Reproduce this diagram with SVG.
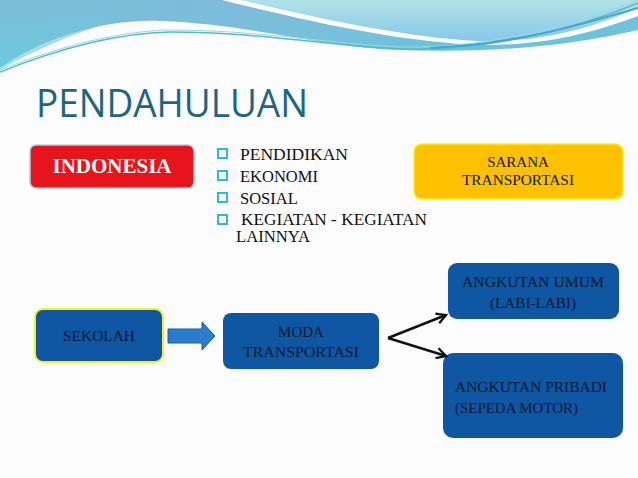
<svg xmlns="http://www.w3.org/2000/svg" width="638" height="478" viewBox="0 0 638 478">
<defs>
<linearGradient id="gMain" x1="0" y1="0" x2="1" y2="1">
<stop offset="0" stop-color="#80b9d8"/>
<stop offset="0.5" stop-color="#78c0dc"/>
<stop offset="1" stop-color="#5cc6dc"/>
</linearGradient>
<linearGradient id="gLeft" x1="0" y1="0" x2="0" y2="1">
<stop offset="0" stop-color="#7dbdd8"/>
<stop offset="1" stop-color="#5fd2e2"/>
</linearGradient>
<linearGradient id="gLight" x1="0" y1="0" x2="0" y2="1">
<stop offset="0" stop-color="#b2e2e6"/>
<stop offset="1" stop-color="#85c8ea"/>
</linearGradient>
<marker id="ah" viewBox="0 0 12 12" refX="10" refY="6" markerWidth="5" markerHeight="5" orient="auto" markerUnits="strokeWidth">
<path d="M1,1 L10,6 L1,11" fill="none" stroke="#111" stroke-width="2.2" stroke-linejoin="miter"/>
</marker>
<style>
.box{fill:#0f57a3;}
.t{font-family:"Liberation Serif","Times New Roman",serif;font-size:15px;fill:#0b1630;}
.b{font-family:"Liberation Serif","Times New Roman",serif;font-size:16.5px;fill:#111;}
.cb{fill:#f4fbfc;stroke:#35b6ca;stroke-width:2;}
</style>
</defs>
<rect width="638" height="478" fill="#fcfcfc"/>
<g id="header">
<path d="M0,0 H638 V30 C 560,48 480,53 400,50 C 320,47 250,24 160,21 C 100,19 40,40 0,68 Z" fill="url(#gMain)"/>
<path d="M0,0 H200 C 140,10 60,35 0,70 Z" fill="url(#gLeft)" opacity="0.6"/>
<path d="M222,0 C 310,22 400,42 478,45 C 550,46 600,30 638,16 V0 Z" fill="#ffffff"/>
<path d="M240,0 C 322,19 403,37 478,41 C 545,43 600,25 638,8 V0 Z" fill="url(#gLight)"/>
<path d="M0,72 C 60,48 120,33 170,32 C 260,32 330,46 400,49 C 480,51 570,32 638,3" fill="none" stroke="#4fbccc" stroke-width="1.5"/>
<path d="M0,70 C 60,46 120,31 170,30 C 260,30 330,44 400,47 C 480,49 570,28 638,0" fill="none" stroke="#9fd6e0" stroke-width="1"/>
<path d="M430,48 C 520,44 590,22 638,8" fill="none" stroke="#3aa8d0" stroke-width="2"/>
</g>
<text x="36" y="117" font-family="'Open Sans','Liberation Sans',sans-serif" font-size="39" fill="#1c6682" textLength="272" lengthAdjust="spacingAndGlyphs">PENDAHULUAN</text>
<g id="indonesia">
<rect x="30" y="145" width="164" height="43" rx="6" fill="#e8141c" stroke="#9fd3ea" stroke-width="1.5"/>
<text x="112" y="173" text-anchor="middle" font-family="'Liberation Serif','Times New Roman',serif" font-weight="bold" font-size="20" fill="#ffffff" textLength="119" lengthAdjust="spacingAndGlyphs">INDONESIA</text>
</g>
<g id="list">
<rect class="cb" x="218" y="149" width="9" height="9"/>
<rect class="cb" x="218" y="171" width="9" height="9"/>
<rect class="cb" x="218" y="193" width="9" height="9"/>
<rect class="cb" x="218" y="215" width="9" height="9"/>
<text class="b" x="240" y="160" textLength="108" lengthAdjust="spacingAndGlyphs">PENDIDIKAN</text>
<text class="b" x="240" y="182">EKONOMI</text>
<text class="b" x="240" y="204">SOSIAL</text>
<text class="b" x="241" y="225" textLength="186" lengthAdjust="spacingAndGlyphs">KEGIATAN - KEGIATAN</text>
<text class="b" x="236" y="242" textLength="74" lengthAdjust="spacingAndGlyphs">LAINNYA</text>
</g>
<g id="sarana">
<rect x="414" y="144" width="209" height="55" rx="8" fill="#ffc000" stroke="#fff200" stroke-width="1.5"/>
<text class="t" x="518" y="167" text-anchor="middle" fill="#2a1f00">SARANA</text>
<text class="t" x="518" y="185" text-anchor="middle" textLength="112" lengthAdjust="spacingAndGlyphs">TRANSPORTASI</text>
</g>
<g id="sekolah">
<rect x="35" y="309" width="128" height="53" rx="8" class="box" stroke="#f2f21c" stroke-width="2"/>
<text class="t" x="99" y="341" text-anchor="middle" textLength="72" lengthAdjust="spacingAndGlyphs">SEKOLAH</text>
</g>
<g id="moda">
<rect x="223" y="313" width="156" height="56" rx="8" class="box"/>
<text class="t" x="301" y="337" text-anchor="middle">MODA</text>
<text class="t" x="301" y="357" text-anchor="middle" textLength="116" lengthAdjust="spacingAndGlyphs">TRANSPORTASI</text>
</g>
<g id="umum">
<rect x="448" y="263" width="171" height="56" rx="9" class="box"/>
<text class="t" x="533" y="287" text-anchor="middle" textLength="142" lengthAdjust="spacingAndGlyphs">ANGKUTAN UMUM</text>
<text class="t" x="533" y="308" text-anchor="middle" textLength="86" lengthAdjust="spacingAndGlyphs">(LABI-LABI)</text>
</g>
<g id="pribadi">
<rect x="443" y="353" width="180" height="85" rx="10" class="box"/>
<text class="t" x="455" y="392" textLength="152" lengthAdjust="spacingAndGlyphs">ANGKUTAN PRIBADI</text>
<text class="t" x="455" y="413" textLength="123" lengthAdjust="spacingAndGlyphs">(SEPEDA MOTOR)</text>
</g>
<g id="connectors">
<path d="M168,329 H202 V322 L215,336 L202,350 V343 H168 Z" fill="#2b7ccd" stroke="#1a58a0" stroke-width="1"/>
<line x1="388" y1="338" x2="446" y2="315" stroke="#111" stroke-width="2.5" marker-end="url(#ah)"/>
<line x1="388" y1="338" x2="446" y2="356" stroke="#111" stroke-width="2.5" marker-end="url(#ah)"/>
</g>
</svg>
